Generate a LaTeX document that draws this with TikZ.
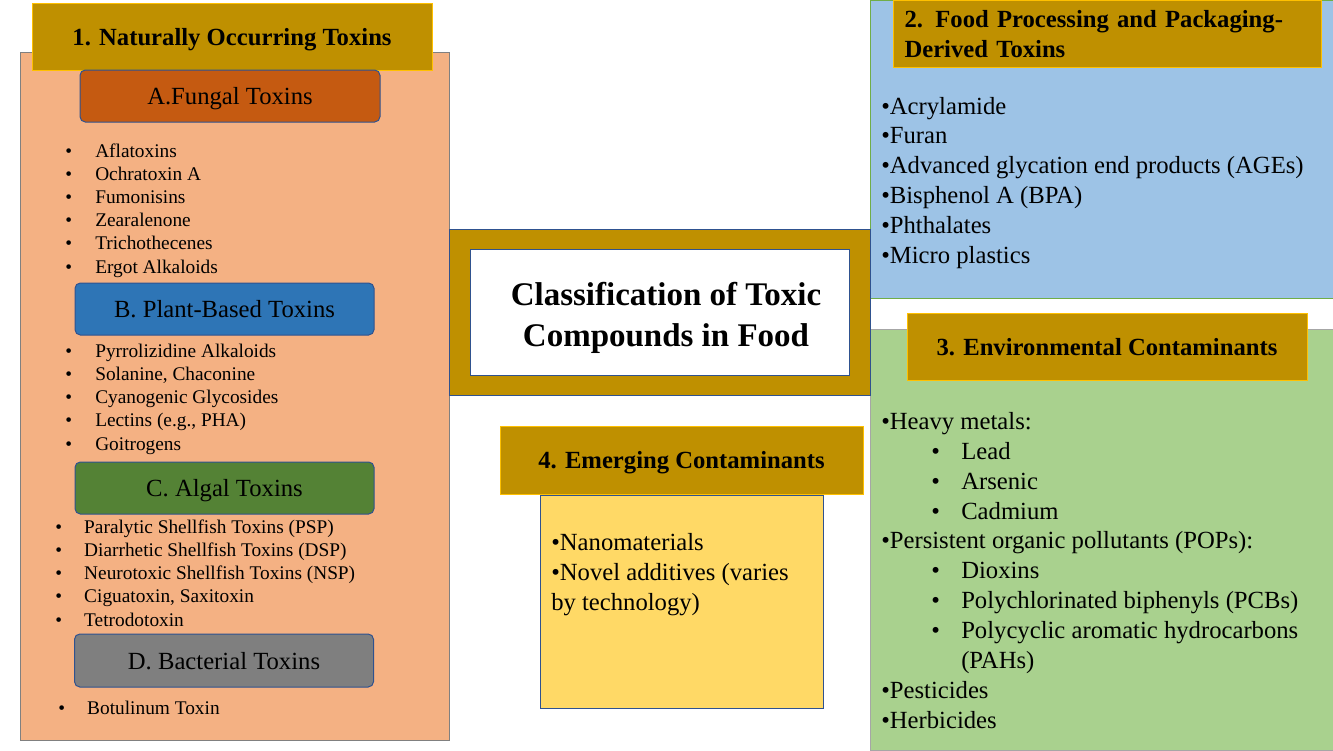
\documentclass[tikz,border=0pt]{standalone}
\usepackage{fontspec}
\setmainfont{Liberation Serif}
\usetikzlibrary{positioning}
\definecolor{gold}{HTML}{BF9000}
\definecolor{goldline}{HTML}{FFC000}
\definecolor{salmon}{HTML}{F4B183}
\definecolor{skyblue}{HTML}{9DC3E6}
\definecolor{leafgreen}{HTML}{A9D18E}
\definecolor{leafline}{HTML}{70AD47}
\definecolor{sand}{HTML}{FFD966}
\definecolor{fungal}{HTML}{C55A11}
\definecolor{plant}{HTML}{2E75B6}
\definecolor{algal}{HTML}{548235}
\definecolor{bact}{HTML}{7F7F7F}
\definecolor{navyline}{HTML}{2F528F}
\newcommand{\bul}[1]{\makebox[#1][l]{\textbullet}}

\begin{document}
\begin{tikzpicture}[x=0.75pt, y=-0.75pt,
  box/.style={draw, line width=0.75pt, inner sep=0pt},
  head/.style={box, draw=goldline, fill=gold, minimum height=50.25pt, text depth=0pt, font=\fontsize{18.5}{22}\selectfont\bfseries},
  sub/.style={box, draw=navyline, rounded corners=4pt, minimum width=224.25pt, minimum height=39pt, text depth=0pt, font=\fontsize{18.5}{22}\selectfont},
  small/.style={anchor=base west, inner sep=0pt, font=\fontsize{14.5}{17}\selectfont},
  large/.style={anchor=base west, inner sep=0pt, font=\fontsize{18.5}{22}\selectfont}]
\useasboundingbox (0,0) rectangle (1333,750);

% panels
\node[box, draw=gray, fill=salmon, minimum width=321.75pt, minimum height=516pt] (natural) at (234.5,396) {};
\node[box, draw=leafline, fill=skyblue, minimum width=347.25pt, minimum height=223.5pt] (process) at (1101.5,149) {};
\node[box, draw=gray!70, fill=leafgreen, minimum width=347.25pt, minimum height=315.75pt] (environ) at (1101.5,539.5) {};
\node[box, draw=navyline, fill=sand, minimum width=212.25pt, minimum height=159.75pt] (emerging) at (681.5,601.5) {};
\node[box, draw=navyline, fill=gold, minimum width=315.75pt, minimum height=124.5pt] (hub) at (659.5,312) {};
\node[box, draw=navyline, fill=white, minimum width=284.25pt, minimum height=94.5pt] (inner) at (659.5,312) {};
\node[align=center, inner sep=0pt, font=\fontsize{24.75}{30.5}\selectfont\bfseries] (title) at (666,318) {Classification of Toxic\\ Compounds in Food};

% headers
\node[head, minimum width=300pt] (h1) at (232,36.5) {1. Naturally Occurring Toxins};
\node[head, text depth={}, anchor=north west, inner xsep=8.25pt, text width=304.5pt, align=left] (h2) at (893,0) {2. Food Processing and Packaging-\\Derived Toxins};
\node[head, minimum width=300pt] (h3) at (1107,346.5) {3. Environmental Contaminants};
\node[head, minimum width=272.25pt, minimum height=51pt] (h4) at (681.5,460) {4. Emerging Contaminants};

% sub headers
\node[sub, fill=fungal, minimum width=225pt] (fung) at (230,96) {A.Fungal Toxins};
\node[sub, fill=plant] (plnt) at (224.5,309) {B. Plant-Based Toxins};
\node[sub, fill=algal] (alg) at (224.5,488) {C. Algal Toxins};
\node[sub, fill=bact, minimum height=39.75pt] (bac) at (224,660.5) {D. Bacterial Toxins};

% lists, left panel
\foreach \t [count=\i] in {Aflatoxins, Ochratoxin A, Fumonisins, Zearalenone, Trichothecenes, Ergot Alkaloids}
  \node[small] (fa\i) at (65,133.8+23.2*\i) {\bul{22.5pt}\t};
\foreach \t [count=\i] in {Pyrrolizidine Alkaloids, {Solanine, Chaconine}, Cyanogenic Glycosides, {Lectins (e.g., PHA)}, Goitrogens}
  \node[small] (pb\i) at (65,333.7+23.3*\i) {\bul{22.5pt}\t};
\foreach \t [count=\i] in {Paralytic Shellfish Toxins (PSP), Diarrhetic Shellfish Toxins (DSP), Neurotoxic Shellfish Toxins (NSP), {Ciguatoxin, Saxitoxin}, Tetrodotoxin}
  \node[small] (al\i) at (55,509.7+23.3*\i) {\bul{21.75pt}\t};
\node[small] (bt1) at (58,714) {\bul{21.75pt}Botulinum Toxin};

% list, processing
\foreach \t [count=\i] in {Acrylamide, Furan, Advanced glycation end products (AGEs), Bisphenol A (BPA), Phthalates, Micro plastics}
  \node[large] (pr\i) at (881,84.1+29.9*\i) {\textbullet\t};

% list, environment
\node[large] (en1) at (881,429.3) {\textbullet Heavy metals:};
\foreach \t [count=\i] in {Lead, Arsenic, Cadmium}
  \node[large] (hm\i) at (931,429.3+29.9*\i) {\bul{22.5pt}\t};
\node[large] (en2) at (881,548.9) {\textbullet Persistent organic pollutants (POPs):};
\foreach \t [count=\i] in {Dioxins, Polychlorinated biphenyls (PCBs), Polycyclic aromatic hydrocarbons}
  \node[large] (pop\i) at (931,548.9+29.9*\i) {\bul{22.5pt}\t};
\node[large] (pah) at (961,668.5) {(PAHs)};
\node[large] (en3) at (881,698.4) {\textbullet Pesticides};
\node[large] (en4) at (881,728.3) {\textbullet Herbicides};

% list, emerging
\node[large] (em1) at (551,550) {\textbullet Nanomaterials};
\node[large] (em2) at (551,580) {\textbullet Novel additives (varies};
\node[large] (em3) at (551,610) {by technology)};
\end{tikzpicture}
\end{document}
